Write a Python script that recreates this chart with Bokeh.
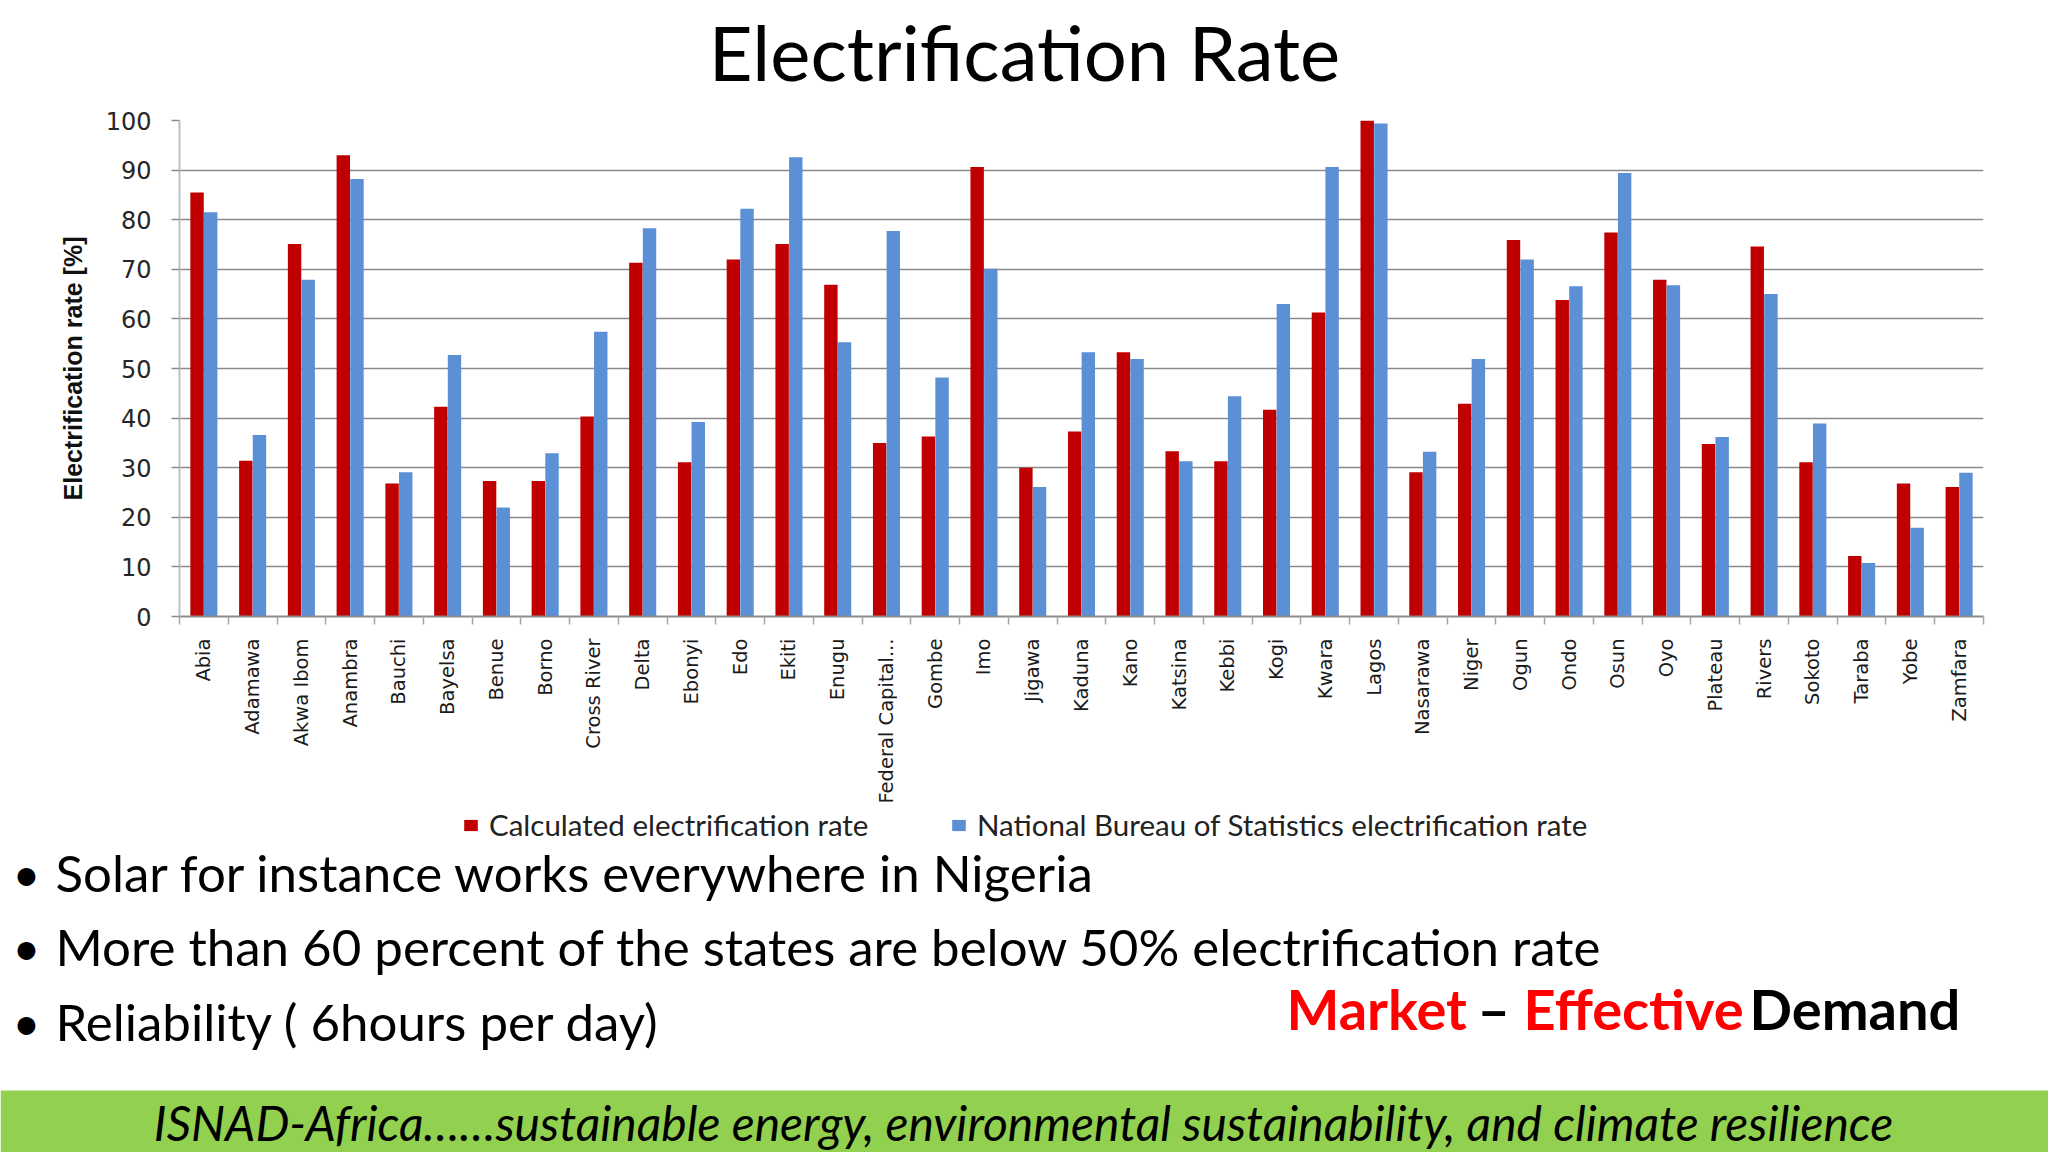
import numpy as np
from bokeh.plotting import figure
from bokeh.layouts import column, row
from bokeh.models import Range1d, FixedTicker, Legend, LegendItem
from bokeh.core.properties import value
from bokeh.embed import file_html
from bokeh.resources import INLINE

states = ["Abia", "Adamawa", "Akwa Ibom", "Anambra", "Bauchi", "Bayelsa", "Benue", "Borno",
          "Cross River", "Delta", "Ebonyi", "Edo", "Ekiti", "Enugu", "Federal Capital...",
          "Gombe", "Imo", "Jigawa", "Kaduna", "Kano", "Katsina", "Kebbi", "Kogi", "Kwara",
          "Lagos", "Nasarawa", "Niger", "Ogun", "Ondo", "Osun", "Oyo", "Plateau", "Rivers",
          "Sokoto", "Taraba", "Yobe", "Zamfara"]
calculated = [85.5, 31.4, 75.1, 93.0, 26.8, 42.3, 27.3, 27.3, 40.3, 71.3, 31.1, 72.0, 75.1,
              66.9, 35.0, 36.3, 90.6, 30.0, 37.3, 53.3, 33.3, 31.3, 41.7, 61.3, 100.0, 29.1,
              42.9, 75.9, 63.8, 77.4, 67.9, 34.8, 74.6, 31.1, 12.2, 26.8, 26.1]
nbs = [81.5, 36.6, 67.9, 88.2, 29.1, 52.7, 22.0, 32.9, 57.4, 78.3, 39.2, 82.2, 92.6, 55.3,
       77.7, 48.2, 70.1, 26.1, 53.3, 51.9, 31.3, 44.4, 63.0, 90.6, 99.4, 33.2, 51.9, 72.0,
       66.6, 89.4, 66.8, 36.2, 65.0, 38.9, 10.8, 17.9, 29.0]
y_ticks = [0, 10, 20, 30, 40, 50, 60, 70, 80, 90, 100]

series_names = ["Calculated electrification rate",
                "National Bureau of Statistics electrification rate"]
title_text = "Electrification Rate"
bullets = ["Solar for instance works everywhere in Nigeria",
           "More than 60 percent of the states are below 50% electrification rate",
           "Reliability ( 6hours per day)"]
tagline = [("Market", "#FF0000"), ("\u2013", "#000000"), ("Effective", "#FF0000"),
           ("Demand", "#000000")]
footer_text = ("ISNAD-Africa\u2026\u2026sustainable energy, environmental sustainability, "
               "and climate resilience")

RED = "#C00000"
BLUE = "#5B8FD6"
W = 2048
H_TOP, H_MAIN, H_BOT = 100, 706, 346
n = len(states)
xs = np.arange(n)


def canvas_fig(h):
    f = figure(width=W, height=h, output_backend="svg", toolbar_location=None,
               x_range=Range1d(0, W), y_range=Range1d(h, 0),
               min_border=0, min_border_left=0, min_border_right=0,
               min_border_top=0, min_border_bottom=0,
               x_axis_location=None, y_axis_location=None,
               outline_line_color=None, border_fill_color="white",
               background_fill_color="white")
    f.grid.visible = False
    return f


# ---------------- title ----------------
top = canvas_fig(H_TOP)
top.text(x=[1024], y=[51], text=[title_text], text_align="center", text_baseline="middle",
         text_font=value("Lato"), text_font_size="76px", text_color="black")

# ---------------- chart ----------------
p = figure(width=W, height=H_MAIN, output_backend="svg", toolbar_location=None,
           x_range=Range1d(-0.5, n - 0.5), y_range=Range1d(0, 100),
           min_border_left=179, min_border_right=65, min_border_top=20, min_border_bottom=190,
           outline_line_color=None, background_fill_color="white", border_fill_color="white")

p.vbar(x=xs - 0.14, top=calculated, width=0.275, fill_color=RED, line_color=None)
p.vbar(x=xs + 0.14, top=nbs, width=0.275, fill_color=BLUE, line_color=None)

xa = p.xaxis[0]
xa.ticker = FixedTicker(ticks=list(xs), minor_ticks=list(np.arange(n + 1) - 0.5))
xa.major_label_overrides = {int(i): s for i, s in enumerate(states)}
xa.major_label_orientation = np.pi / 2
xa.major_tick_out = 0
xa.major_tick_in = 0
xa.minor_tick_out = 8
xa.minor_tick_in = 0
xa.minor_tick_line_color = "#A6A6A6"
xa.minor_tick_line_width = 1.5
xa.axis_line_color = "#8C8C8C"
xa.axis_line_width = 2
xa.major_label_standoff = 14
xa.major_label_text_font = "DejaVu Sans"
xa.major_label_text_font_size = "19.5px"
xa.major_label_text_color = "#1a1a1a"

ya = p.yaxis[0]
ya.ticker = FixedTicker(ticks=y_ticks)
ya.axis_label = "Electrification rate [%]"
ya.axis_label_text_font = "Liberation Sans"
ya.axis_label_text_font_style = "bold"
ya.axis_label_text_font_size = "25px"
ya.axis_label_text_color = "#111111"
ya.axis_label_standoff = 16
ya.major_tick_out = 8
ya.major_tick_in = 0
ya.major_tick_line_color = "#8C8C8C"
ya.major_tick_line_width = 1.5
ya.minor_tick_line_color = None
ya.axis_line_color = "#BFBFBF"
ya.axis_line_width = 2
ya.major_label_standoff = 20
ya.major_label_text_font = "DejaVu Sans"
ya.major_label_text_font_size = "24px"
ya.major_label_text_color = "#262626"

p.xgrid.grid_line_color = None
p.ygrid.grid_line_color = "#8A8A8A"
p.ygrid.grid_line_width = 1.6

# ---------------- bottom: legend, bullets, footer ----------------
bot = canvas_fig(H_BOT)
lr = bot.vbar(x=[-100], top=[0], width=1, fill_color=RED, line_color=None)
lb = bot.vbar(x=[-100], top=[0], width=1, fill_color=BLUE, line_color=None)
for rend, name, lx in [(lr, series_names[0], 462), (lb, series_names[1], 950)]:
    bot.add_layout(Legend(items=[LegendItem(label=name, renderers=[rend])],
                          location=(lx, 310), glyph_width=17, glyph_height=14,
                          label_standoff=10, label_text_font="Lato",
                          label_text_font_size="29.5px", label_text_color="#222222",
                          border_line_color=None, background_fill_alpha=0,
                          padding=0, margin=0))

for yy, t in zip([66, 140, 215], bullets):
    bot.text(x=[12], y=[yy], text=["\u2022"], text_align="left", text_baseline="middle",
             text_font=value("Lato"), text_font_size="48px", text_color="black")
    bot.text(x=[55], y=[yy], text=[t], text_align="left", text_baseline="middle",
             text_font=value("Lato"), text_font_size="51px", text_color="black")

for xx, (t, c) in zip([1286, 1477, 1523, 1749], tagline):
    bot.text(x=[xx], y=[202], text=[t], text_align="left", text_baseline="middle",
             text_font=value("Lato"), text_font_style="bold", text_font_size="56px",
             text_color=c)

bot.quad(left=[0], right=[W], top=[284], bottom=[H_BOT], fill_color="#92D050",
         line_color=None)
bot.text(x=[1023], y=[316], text=[footer_text], text_align="center", text_baseline="middle",
         text_font=value("Lato"), text_font_style="italic", text_font_size="48px",
         text_color="black")

layout = column(row(top), row(p), row(bot), spacing=0)
open("out.html", "w").write(file_html(layout, INLINE))
